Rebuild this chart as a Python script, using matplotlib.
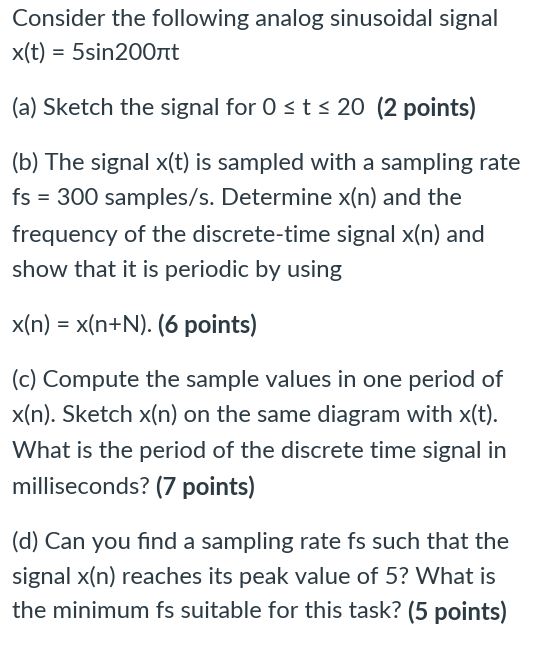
import matplotlib
matplotlib.use("Agg")
import matplotlib.pyplot as plt

FONT = "Lato"
SIZE = 17.2
COLOR = "#2d3b45"

# (text, bold suffix, y centre in px from top)
LINES = [
    ("Consider the following analog sinusoidal signal", "", 20),
    ("x(t) = 5sin200\u03c0t", "", 53),
    ("(a) Sketch the signal for 0 \u2264 t \u2264 20  ", "(2 points)", 108),
    ("(b) The signal x(t) is sampled with a sampling rate", "", 163),
    ("fs = 300 samples/s. Determine x(n) and the", "", 198),
    ("frequency of the discrete-time signal x(n) and", "", 235),
    ("show that it is periodic by using", "", 270),
    ("x(n) = x(n+N). ", "(6 points)", 325),
    ("(c) Compute the sample values in one period of", "", 380),
    ("x(n). Sketch x(n) on the same diagram with x(t).", "", 415),
    ("What is the period of the discrete time signal in", "", 451),
    ("milliseconds? ", "(7 points)", 487),
    ("(d) Can you \ufb01nd a sampling rate fs such that the", "", 542),
    ("signal x(n) reaches its peak value of 5? What is", "", 577),
    ("the minimum fs suitable for this task? ", "(5 points)", 612),
]

W, H = 540, 662
fig = plt.figure(figsize=(W / 100, H / 100), dpi=100)
fig.patch.set_facecolor("white")
renderer = fig.canvas.get_renderer()
fam = [FONT, "DejaVu Sans"]

for text, bold, y in LINES:
    yf = 1 - y / H
    t = fig.text(12 / W, yf, text, family=fam, fontsize=SIZE, color=COLOR, va="center")
    if bold:
        bb = t.get_window_extent(renderer)
        fig.text(bb.x1 / W, yf, bold, family=fam, fontsize=SIZE, color=COLOR,
                 va="center", weight="bold")

fig.savefig("out.png", dpi=100)
